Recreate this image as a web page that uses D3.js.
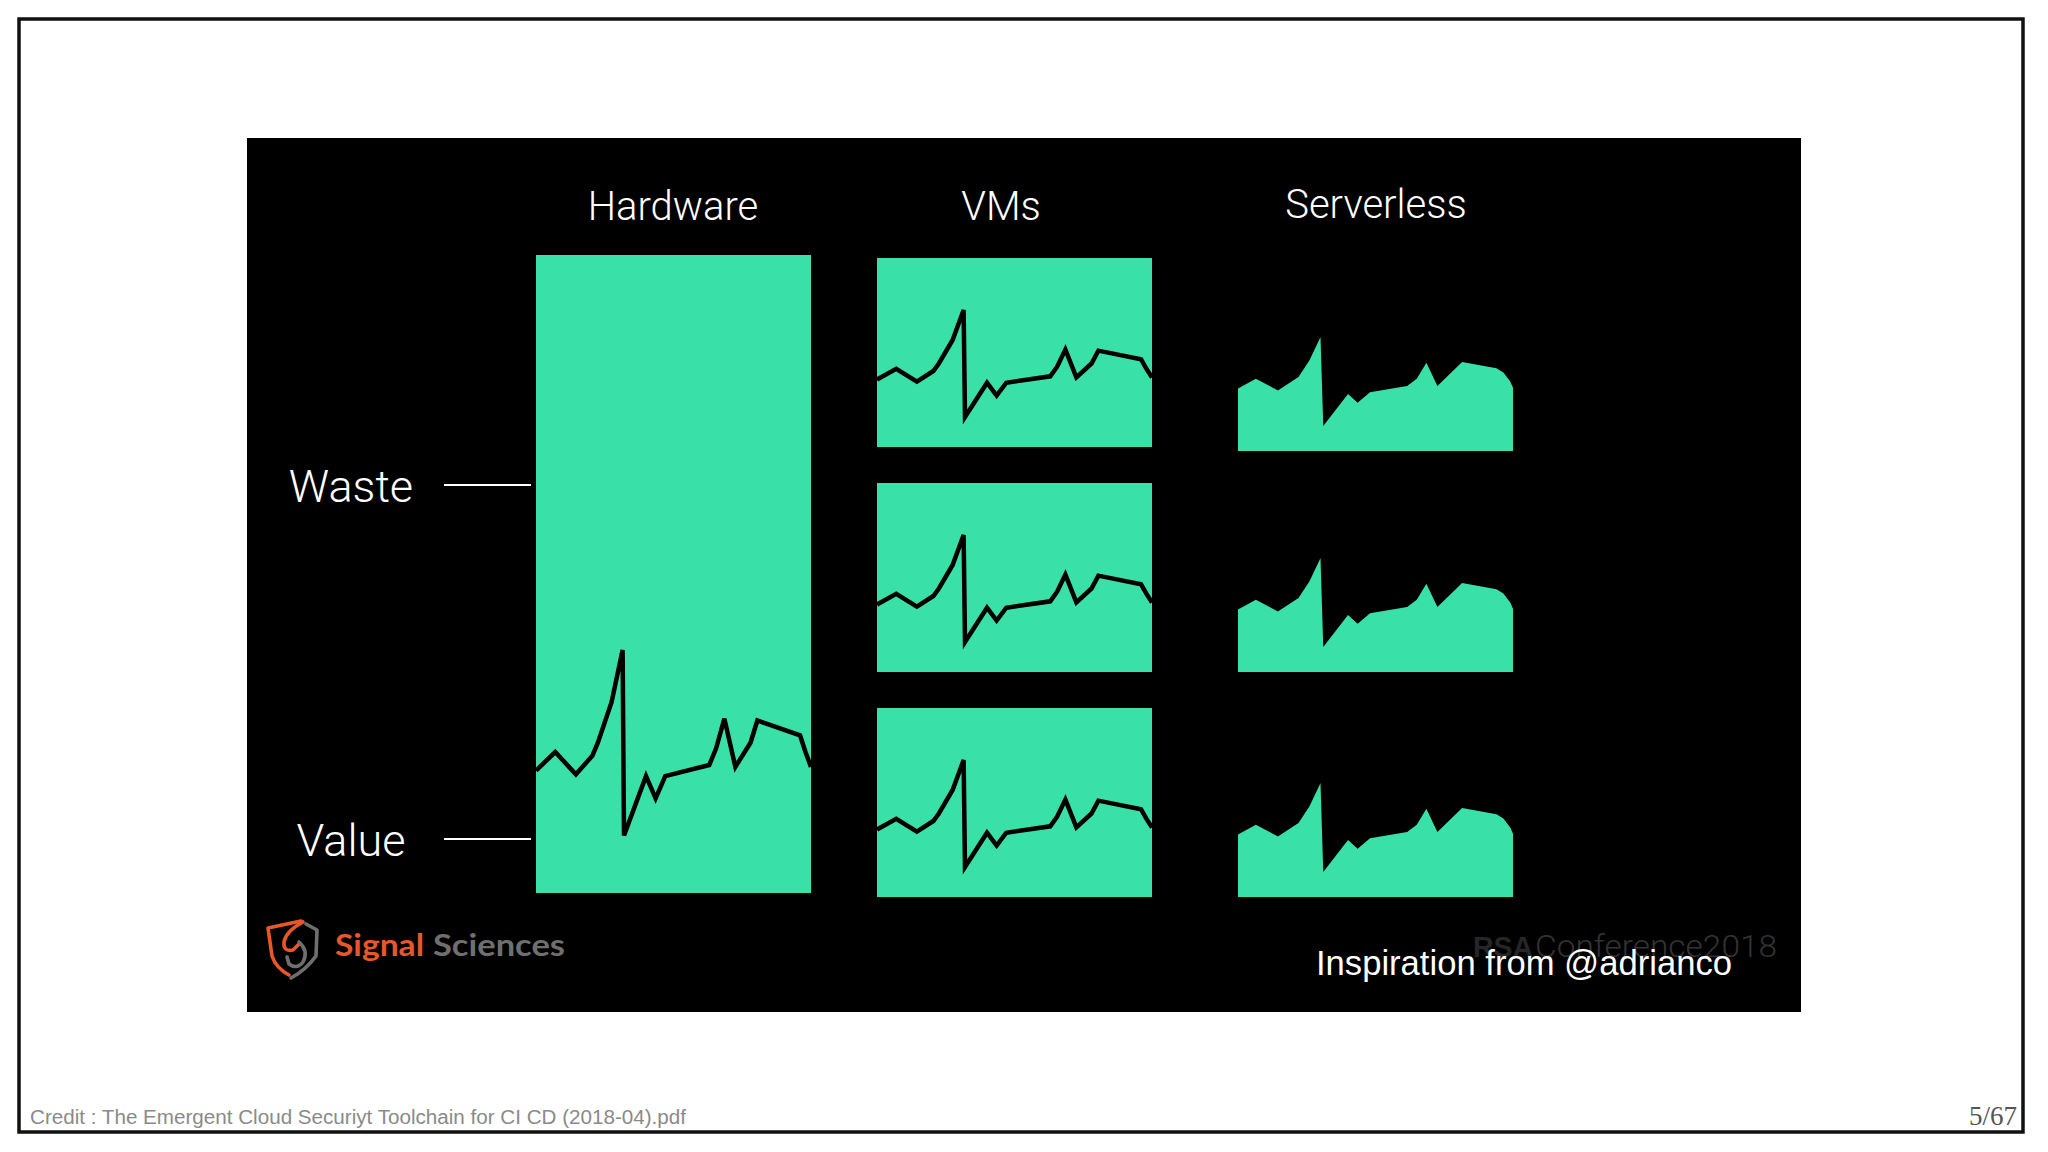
<!DOCTYPE html>
<html>
<head>
<meta charset="utf-8">
<script src="https://cdn.jsdelivr.net/npm/d3@7/dist/d3.min.js"></script>
<style>
  html, body { margin: 0; padding: 0; background: #ffffff; }
  svg { display: block; }
</style>
</head>
<body>
<script>
// ---------- data ----------
const panels = ["Hardware", "VMs", "Serverless"];
const levelLabels = ["Waste", "Value"];
const timeSteps = [0, 7, 14.5, 20.5, 22.5, 27.5, 31.5, 32, 40, 43.5, 47, 63, 65.5, 68.5, 72.5, 78, 80.5, 96, 98, 100];
const signal    = [35, 45, 33, 43, 50, 72, 100, 0, 32, 20, 32, 38, 47, 63, 37, 50, 62, 54, 45, 37];
const serverlessTime   = [0, 6.5, 14.5, 22, 26, 30, 31, 40, 43.5, 48, 61.5, 65, 68.5, 72.5, 81.5, 94, 96.5, 99, 100];
const serverlessSignal = [42, 53, 40, 55, 74, 100, 0, 36, 26, 38, 45, 53, 71, 45, 72, 65, 60, 50, 43];
const vmCount = 3;
const brandWords = ["Signal", "Sciences"];
const captionText = "Inspiration from @adrianco";
const watermarkWords = ["RSA", "Conference2018"];
const creditText = "Credit : The Emergent Cloud Securiyt Toolchain for CI CD (2018-04).pdf";
const pageText = "5/67";

// ---------- layout ----------
const W = 2048, H = 1152;
const GREEN = "#39e0a8";
const svg = d3.select("body").append("svg").attr("width", W).attr("height", H);

svg.append("rect").attr("x", 0).attr("y", 0).attr("width", W).attr("height", H).attr("fill", "#ffffff");
// page frame
svg.append("rect").attr("x", 19).attr("y", 19).attr("width", 2004).attr("height", 1113)
  .attr("fill", "none").attr("stroke", "#111").attr("stroke-width", 3.5);
// black slide
svg.append("rect").attr("x", 247).attr("y", 138).attr("width", 1554).attr("height", 874).attr("fill", "#000");

const pts = timeSteps.map((t, i) => ({ t, v: signal[i] }));
const sPts = serverlessTime.map((t, i) => ({ t, v: serverlessSignal[i] }));

const titleFont = "Roboto, 'Helvetica Neue', 'Liberation Sans', sans-serif";

// titles
const titleX = [673, 1001, 1376];
const titleY = [220, 220, 218];
svg.selectAll("text.title").data(panels).join("text")
  .attr("class", "title")
  .attr("x", (d, i) => titleX[i]).attr("y", (d, i) => titleY[i])
  .attr("text-anchor", "middle")
  .attr("font-family", titleFont).attr("font-weight", 300).attr("font-size", 40)
  .attr("fill", "#fff").text(d => d);

// ---------- Hardware ----------
const hwX = d3.scaleLinear().domain([0, 100]).range([536, 811]);
const hwY = d3.scaleLinear().domain([0, 100]).range([835.5, 650]);
svg.append("rect").attr("x", hwX(0)).attr("y", 255).attr("width", hwX(100) - hwX(0)).attr("height", 638).attr("fill", GREEN);
svg.append("path").datum(pts)
  .attr("d", d3.line().x(d => hwX(d.t)).y(d => hwY(d.v)))
  .attr("fill", "none").attr("stroke", "#000").attr("stroke-width", 4.5).attr("stroke-linejoin", "miter");

// ---------- VMs ----------
const vmX = d3.scaleLinear().domain([0, 100]).range([877, 1152]);
const vmTops = [258, 483, 708];
d3.range(vmCount).forEach(i => {
  const top = vmTops[i];
  const y = d3.scaleLinear().domain([0, 100]).range([top + 159, top + 52]);
  svg.append("rect").attr("x", vmX(0)).attr("y", top).attr("width", vmX(100) - vmX(0)).attr("height", 189).attr("fill", GREEN);
  svg.append("path").datum(pts)
    .attr("d", d3.line().x(d => vmX(d.t)).y(d => y(d.v)))
    .attr("fill", "none").attr("stroke", "#000").attr("stroke-width", 4.5).attr("stroke-linejoin", "miter");
});

// ---------- Serverless ----------
const slX = d3.scaleLinear().domain([0, 100]).range([1238, 1513]);
const slBottoms = [451, 672, 897];
d3.range(vmCount).forEach(i => {
  const b = slBottoms[i];
  const y = d3.scaleLinear().domain([0, 100]).range([b - 25, b - 114]);
  svg.append("path").datum(sPts)
    .attr("d", d3.area().x(d => slX(d.t)).y0(b).y1(d => y(d.v)))
    .attr("fill", GREEN);
});

// ---------- Waste / Value ----------
const levelY = [502, 856];
const levelLineY = [485, 839];
svg.selectAll("text.level").data(levelLabels).join("text")
  .attr("class", "level")
  .attr("x", 351).attr("y", (d, i) => levelY[i])
  .attr("text-anchor", "middle")
  .attr("font-family", titleFont).attr("font-weight", 300).attr("font-size", 45)
  .attr("fill", "#fff").text(d => d);
svg.selectAll("line.level").data(levelLabels).join("line")
  .attr("class", "level")
  .attr("x1", 444).attr("x2", 531)
  .attr("y1", (d, i) => levelLineY[i]).attr("y2", (d, i) => levelLineY[i])
  .attr("stroke", "#fff").attr("stroke-width", 2);

// ---------- Signal Sciences logo ----------
const ORANGE = "#e8572a", GREY = "#6f6f6f";
const logo = svg.append("g").attr("fill", "none").attr("stroke-width", 3.6)
  .attr("stroke-linecap", "round").attr("stroke-linejoin", "round");
logo.append("path").attr("stroke", ORANGE)
  .attr("d", "M301,921 L268,928 L272,956 Q276,968 289,975");
logo.append("path").attr("stroke", ORANGE)
  .attr("d", "M303,922 Q286,931 284,942 Q283,952 293,950 L299,944");
logo.append("path").attr("stroke", GREY)
  .attr("d", "M306,924 L317,930 L316,956 Q306,970 291,978");
logo.append("path").attr("stroke", GREY)
  .attr("d", "M299,942 Q309,951 303,962 Q297,970 289,964 L287,957");
const brandX = [335, 433], brandW = [89, 132], brandC = [ORANGE, GREY];
svg.selectAll("text.brand").data(brandWords).join("text")
  .attr("class", "brand")
  .attr("x", (d, i) => brandX[i]).attr("y", 956)
  .attr("font-family", "Lato, 'Open Sans', sans-serif").attr("font-weight", 700).attr("font-size", 31)
  .attr("textLength", (d, i) => brandW[i]).attr("lengthAdjust", "spacingAndGlyphs")
  .attr("fill", (d, i) => brandC[i]).text(d => d);

// ---------- watermark + caption ----------
svg.append("text").attr("x", 1473).attr("y", 957)
  .attr("font-family", "'Liberation Sans', sans-serif").attr("font-weight", 700).attr("font-size", 30)
  .attr("fill", "#262626").attr("textLength", 60).attr("lengthAdjust", "spacingAndGlyphs").text(watermarkWords[0]);
svg.append("text").attr("x", 1535).attr("y", 957)
  .attr("font-family", titleFont).attr("font-weight", 300).attr("font-size", 31)
  .attr("fill", "#333").attr("textLength", 242).attr("lengthAdjust", "spacingAndGlyphs").text(watermarkWords[1]);
svg.append("text").attr("x", 1316).attr("y", 975)
  .attr("font-family", "'Liberation Sans', Arial, sans-serif").attr("font-size", 34.5)
  .attr("fill", "#fff").attr("textLength", 416).attr("lengthAdjust", "spacingAndGlyphs").text(captionText);

// ---------- footer ----------
svg.append("text").attr("x", 30).attr("y", 1124)
  .attr("font-family", "'Liberation Sans', Arial, sans-serif").attr("font-size", 20)
  .attr("fill", "#8a8a8a").attr("textLength", 656).attr("lengthAdjust", "spacingAndGlyphs").text(creditText);
svg.append("text").attr("x", 2017).attr("y", 1125).attr("text-anchor", "end")
  .attr("font-family", "'Liberation Serif', 'DejaVu Serif', serif").attr("font-size", 27)
  .attr("fill", "#555").text(pageText);
</script>
</body>
</html>
